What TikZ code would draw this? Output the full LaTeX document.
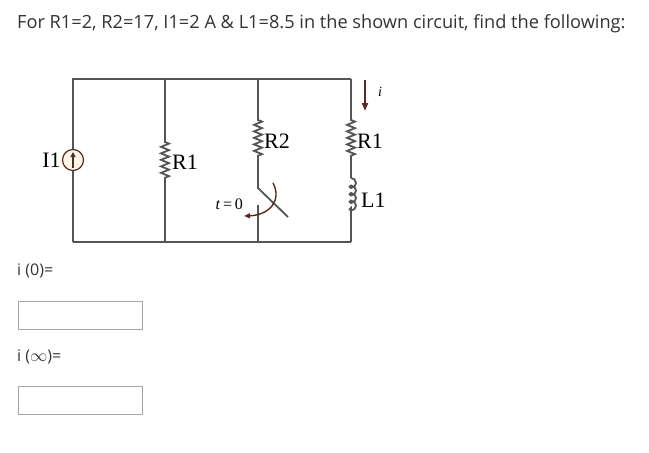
\documentclass[tikz,border=0pt]{standalone}
\usepackage{fontspec}
\setmainfont{Open Sans}
\newfontfamily\serifc{Liberation Serif}
\usetikzlibrary{arrows.meta,decorations.pathmorphing}
\definecolor{wire}{HTML}{555555}
\definecolor{brn}{HTML}{5A2A1E}
\definecolor{txt}{HTML}{333333}
\begin{document}
\begin{tikzpicture}[x=1pt,y=-1pt,
  w/.style={draw=wire,line width=1.8pt},
  res/.style={w,decorate,decoration={zigzag,segment length=6.5pt,amplitude=4pt,pre length=2pt,post length=2pt}},
  lab/.style={font=\serifc\fontsize{22}{22}\selectfont,text=black,inner sep=1pt},
  box/.style={draw=gray!70,line width=0.8pt,minimum width=124pt,minimum height=28pt,inner sep=0pt}]
\useasboundingbox (0,0) rectangle (649,453);
\node[anchor=west,text=txt,font=\fontsize{18.2}{20}\selectfont,inner sep=0pt] (title) at (17,24) {For R1=2, R2=17, I1=2 A \& L1=8.5 in the shown circuit, find the following:};
\coordinate (tl) at (73,79); \coordinate (t1) at (165,79); \coordinate (t2) at (258,79); \coordinate (tr) at (351,79);
\coordinate (bl) at (73,242); \coordinate (b1) at (165,242); \coordinate (b2) at (258,242); \coordinate (br) at (351,242);
\draw[w] (bl) -- (tl) -- (tr);
\draw[w] (bl) -- (br);
\node[circle,draw=brn,fill=orange!8,line width=1.2pt,minimum size=21pt,inner sep=0pt] (src) at (73,160) {};
\draw[brn,line width=1.6pt,-{Triangle[length=5pt,width=5pt]}] (73,168) -- (73,152);
\node[lab,anchor=east] (I1) at (src.west) {I1};
\coordinate (r1a) at (165,140); \coordinate (r1b) at (165,182);
\draw[w] (t1) -- (r1a); \draw[res] (r1a) -- (r1b); \draw[w] (r1b) -- (b1);
\node[lab,anchor=west] (lr1) at (171,162) {R1};
\coordinate (r2a) at (258,118); \coordinate (r2b) at (258,160);
\coordinate (sp) at (258,188); \coordinate (se) at (288,217); \coordinate (sc) at (258,205);
\draw[w] (t2) -- (r2a); \draw[res] (r2a) -- (r2b); \draw[w] (r2b) -- (sp) -- (se);
\draw[w] (sc) -- (b2);
\node[lab,anchor=west] (lr2) at (263,141) {R2};
\draw[brn,line width=1.4pt,-{Triangle[length=6pt,width=5pt]}] (273,183) .. controls (282,200) and (270,215) .. (244,216);
\node[font=\serifc\fontsize{16}{16}\selectfont,anchor=east,inner sep=1pt] (t0) at (244,204) {\textit{t}\,=\,0};
\coordinate (r3a) at (351,118); \coordinate (r3b) at (351,160);
\coordinate (la) at (351,178); \coordinate (lb) at (351,223);
\draw[w] (tr) -- (r3a); \draw[res] (r3a) -- (r3b); \draw[w] (r3b) -- (la);
\draw[w] (la) \foreach \k in {0,1,2,3} {arc[start angle=90,end angle=-90,radius=5pt] arc[start angle=-90,end angle=-270,radius=1.25pt]} -- (lb);
\draw[w] (lb) -- (br);
\node[lab,anchor=west] (lr3) at (356,141) {R1};
\node[lab,anchor=west] (ll1) at (360,200) {L1};
\draw[brn,line width=1.8pt,-{Triangle[length=8pt,width=6pt]}] (365,80) -- (365,111);
\node[font=\serifc\itshape\fontsize{14}{14}\selectfont] (i) at (380,92) {i};
\node[anchor=west,text=txt,font=\fontsize{16}{18}\selectfont,inner sep=0pt] (q1) at (17,271) {i (0)=};
\node[box,anchor=north west] (a1) at (18,301) {};
\node[anchor=west,text=txt,font=\fontsize{16}{18}\selectfont,inner sep=0pt] (q2) at (17,357) {i ($\infty$)=};
\node[box,anchor=north west] (a2) at (18,386) {};
\end{tikzpicture}
\end{document}
